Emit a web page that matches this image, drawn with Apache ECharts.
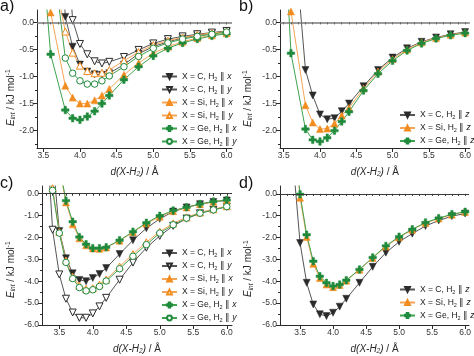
<!DOCTYPE html>
<html><head><meta charset="utf-8">
<script src="https://cdn.jsdelivr.net/npm/echarts@6/dist/echarts.min.js"></script>
<style>html,body{margin:0;padding:0;background:#fff}#c{width:474px;height:356px}</style>
</head><body><div id="c"></div>
<script>
// ---------- data ----------
const xA = [3.5,3.6,3.7,3.8,3.9,4.0,4.1,4.2,4.3,4.4,4.6,4.8,5.0,5.2,5.4,5.6,5.8,6.0];
const aCx  = [null,null,2.5,0.10,-0.45,-0.78,-0.91,-0.96,-0.97,-0.94,-0.78,-0.58,-0.45,-0.36,-0.29,-0.24,-0.20,-0.17];
const aCy  = [null,null,null,2.0,0.04,-0.40,-0.59,-0.72,-0.76,-0.73,-0.64,-0.51,-0.39,-0.31,-0.26,-0.22,-0.19,-0.16];
const aSix = [2.0,0.18,null,-1.17,-1.39,-1.50,-1.50,-1.44,-1.35,-1.23,-0.97,-0.75,-0.57,-0.45,-0.36,-0.29,-0.24,-0.20];
const aSiy = [null,null,0.5,-0.17,-0.56,-0.80,-0.90,-0.94,-0.93,-0.88,-0.71,-0.55,-0.42,-0.34,-0.28,-0.23,-0.20,-0.17];
const aGex = [1.05,-0.59,null,-1.62,-1.77,-1.80,-1.74,-1.64,-1.50,-1.35,-1.06,-0.82,-0.62,-0.48,-0.38,-0.31,-0.25,-0.21];
const aGey = [null,null,0.45,-0.66,-0.94,-1.08,-1.14,-1.14,-1.08,-0.99,-0.82,-0.63,-0.48,-0.38,-0.31,-0.26,-0.22,-0.18];

const xB = [3.5,3.6,3.8,3.9,4.0,4.1,4.2,4.3,4.4,4.6,4.8,5.0,5.2,5.4,5.6,5.8,6.0];
const bCz  = [null,2.3,-0.88,-1.35,-1.70,-1.79,-1.77,-1.64,-1.50,-1.18,-0.88,-0.65,-0.48,-0.36,-0.28,-0.22,-0.18];
const bSiz = [3.0,0.20,-1.53,-1.85,-1.97,-1.96,-1.87,-1.72,-1.58,-1.22,-0.91,-0.68,-0.50,-0.37,-0.29,-0.23,-0.19];
const bGez = [2.0,-0.57,-1.97,-2.17,-2.20,-2.13,-2.00,-1.83,-1.65,-1.26,-0.95,-0.71,-0.52,-0.39,-0.30,-0.24,-0.20];

const xC = [3.3,3.4,3.5,3.6,3.7,3.8,3.9,4.0,4.1,4.2,4.4,4.6,4.8,5.0,5.2,5.4,5.6,5.8,6.0];
const cCx  = [null,1.7,-1.71,-2.95,-3.64,-3.94,-4.00,-3.85,-3.67,-3.40,-2.76,-2.13,-1.58,-1.15,-0.82,-0.63,-0.48,-0.38,-0.31];
const cCy  = [3.3,-1.65,-3.69,-4.80,-5.43,-5.67,-5.67,-5.47,-5.15,-4.76,-3.93,-3.15,-2.47,-1.93,-1.47,-1.14,-0.90,-0.74,-0.60];
const cSix = [null,null,1.2,-0.40,-1.40,-2.04,-2.36,-2.50,-2.52,-2.46,-2.15,-1.76,-1.36,-1.05,-0.80,-0.63,-0.48,-0.37,-0.30];
const cSiy = [4.0,0.25,-1.75,-3.05,-3.80,-4.20,-4.35,-4.32,-4.15,-3.92,-3.33,-2.76,-2.22,-1.73,-1.36,-1.08,-0.86,-0.71,-0.57];
const cGex = [null,null,1.3,-0.32,-1.28,-1.98,-2.31,-2.49,-2.49,-2.45,-2.13,-1.74,-1.33,-1.01,-0.77,-0.62,-0.47,-0.36,-0.29];
const cGey = [4.0,0.15,-1.80,-3.14,-3.88,-4.29,-4.44,-4.39,-4.24,-3.99,-3.43,-2.86,-2.33,-1.80,-1.42,-1.12,-0.89,-0.74,-0.59];

const xD = [3.4,3.5,3.6,3.7,3.8,3.9,4.0,4.1,4.2,4.4,4.6,4.8,5.0,5.2,5.4,5.6,5.8,6.0];
const dCz  = [1.3,-2.25,-4.07,-5.06,-5.51,-5.59,-5.44,-5.16,-4.80,-4.07,-3.34,-2.69,-2.19,-1.82,-1.47,-1.22,-1.02,-0.90];
const dSiz = [3.0,-0.18,-1.97,-3.20,-3.85,-4.15,-4.27,-4.17,-3.97,-3.47,-2.93,-2.41,-1.99,-1.64,-1.33,-1.13,-0.95,-0.83];
const dGez = [3.0,-0.02,-1.87,-3.08,-3.77,-4.07,-4.22,-4.15,-3.95,-3.46,-2.91,-2.38,-1.96,-1.62,-1.31,-1.11,-0.93,-0.82];

// tick labels
const xTicks = [3.5,4.0,4.5,5.0,5.5,6.0];
const yTicksAB = [0.0,-0.5,-1.0,-1.5,-2.0];
const yTicksCD = [0.0,-1.0,-2.0,-3.0,-4.0,-5.0,-6.0];

// ---------- styling ----------
const fam = 'Liberation Sans, Arial, sans-serif';
const ink = '#2a2a2a';
const COL = {C:'#2b2b2b', Si:'#f28c1e', Ge:'#1f8a3c'};
const LINE = {C:'#555555', Si:'#f6a556', Ge:'#3fa24f'};
const plus = 'path://M3.4,0 L6.6,0 L6.6,3.4 L10,3.4 L10,6.6 L6.6,6.6 L6.6,10 L3.4,10 L3.4,6.6 L0,6.6 L0,3.4 L3.4,3.4 Z';
const SYM = {
  C:  {symbol:'triangle', rot:180, size:7},
  Si: {symbol:'triangle', rot:0, size:7},
  Ge: {symbol:plus, rot:0, size:7.5},
  Geo:{symbol:'circle', rot:0, size:6.5}
};

const grids = [
  {left:37, top:10, width:195, height:138},
  {left:280, top:10, width:191, height:138},
  {left:42, top:186, width:190, height:140},
  {left:280, top:186, width:191, height:140}
];
const xRange = [[3.414,6.074],[3.449,6.065],[3.242,6.078],[3.196,6.06]];
const yRange = [[-2.32,0.227],[-2.32,0.227],[-6.0,0.35],[-6.0,0.36]];

function minorList(lo, hi, step){ const r=[]; for(let v=Math.ceil(lo/step-1e-9); v*step<=hi+1e-9; v++) r.push(+(v*step).toFixed(3)); return r; }

const richName = {
  n:{fontSize:10, fontFamily:fam, fill:ink, color:ink, lineHeight:12},
  i:{fontSize:10, fontFamily:fam, fill:ink, color:ink, fontStyle:'italic', lineHeight:12},
  s:{fontSize:6.5, fontFamily:fam, fill:ink, color:ink, fontStyle:'italic', verticalAlign:'bottom'},
  sup:{fontSize:6.5, fontFamily:fam, fill:ink, color:ink, verticalAlign:'top'}
};
const xName = '{i|d(X-H}{s|2}{i|)}{n| / Å}';
const yName = '{i|E}{s|int}{n| / kJ mol}{sup|-1}';
const yNamePos = [[11,126],[248,127],[11,298],[248.5,297]];

const xAxes = [], yAxes = [];
for (let g=0; g<4; g++){
  xAxes.push({
    gridIndex:g, type:'value', min:xRange[g][0], max:xRange[g][1],
    axisLine:{show:true, onZero:false, lineStyle:{color:ink, width:1}},
    axisTick:{show:true, length:4, customValues:xTicks, lineStyle:{color:ink, width:1}},
    axisLabel:{customValues:xTicks, formatter:v=>v.toFixed(1), fontSize:8.5, fontFamily:fam, color:'#333', margin:3},
    splitLine:{show:false},
    name:xName, nameLocation:'middle', nameGap:18,
    nameTextStyle:{rich:richName}
  });
  const yt = g<2 ? yTicksAB : yTicksCD;
  yAxes.push({
    gridIndex:g, type:'value', min:yRange[g][0], max:yRange[g][1],
    axisLine:{show:true, onZero:false, lineStyle:{color:ink, width:1}},
    axisTick:{show:true, length:4, customValues:yt, lineStyle:{color:ink, width:1}},
    axisLabel:{customValues:yt, formatter:v=>v.toFixed(1), fontSize:8.5, fontFamily:fam, color:'#333', margin:3},
    splitLine:{show:false}
  });
}
for (let g=0; g<4; g++){
  xAxes.push({
    gridIndex:g, type:'value', position:'bottom', min:xRange[g][0], max:xRange[g][1],
    axisLine:{show:false}, axisLabel:{show:false}, splitLine:{show:false},
    axisTick:{show:true, length:2, customValues:minorList(xRange[g][0], xRange[g][1], 0.1), lineStyle:{color:ink, width:1}}
  });
  const st = g<2 ? 0.25 : 0.5;
  yAxes.push({
    gridIndex:g, type:'value', position:'left', min:yRange[g][0], max:yRange[g][1],
    axisLine:{show:false}, axisLabel:{show:false}, splitLine:{show:false},
    axisTick:{show:true, length:2, customValues:minorList(yRange[g][0], yRange[g][1], st), lineStyle:{color:ink, width:1}}
  });
}

function ser(id, g, xs, ys, el, filled, zeroLine){
  const sk = (el==='Ge' && !filled) ? 'Geo' : el;
  const s = {
    name:id, type:'line', xAxisIndex:g, yAxisIndex:g,
    data: xs.map((x,i)=>[x, ys[i]]).filter(d=>d[1]!==null),
    symbol:SYM[sk].symbol, symbolRotate:SYM[sk].rot, symbolSize:SYM[sk].size,
    showAllSymbol:true, clip:true, connectNulls:true,
    lineStyle:{color:LINE[el], width:1},
    itemStyle: filled ? {color:COL[el], borderColor:COL[el], borderWidth:0.5}
                      : {color:'#ffffff', borderColor:COL[el], borderWidth:1},
    emphasis:{disabled:true}
  };
  if (zeroLine) s.markLine = {silent:true, symbol:'none', label:{show:false},
      lineStyle:{color: g<2 ? '#7a7a7a' : '#3a3a3a', width: g<2 ? 1.6 : 1.2, type:'solid'},
      data:[{yAxis:0}]};
  return s;
}

const series = [
  ser('a|C|x',0,xA,aCx,'C',true,true),
  ser('a|C|y',0,xA,aCy,'C',false),
  ser('a|Si|x',0,xA,aSix,'Si',true),
  ser('a|Si|y',0,xA,aSiy,'Si',false),
  ser('a|Ge|x',0,xA,aGex,'Ge',true),
  ser('a|Ge|y',0,xA,aGey,'Ge',false),
  ser('b|C|z',1,xB,bCz,'C',true,true),
  ser('b|Si|z',1,xB,bSiz,'Si',true),
  ser('b|Ge|z',1,xB,bGez,'Ge',true),
  ser('c|C|x',2,xC,cCx,'C',true,true),
  ser('c|C|y',2,xC,cCy,'C',false),
  ser('c|Si|x',2,xC,cSix,'Si',true),
  ser('c|Si|y',2,xC,cSiy,'Si',false),
  ser('c|Ge|x',2,xC,cGex,'Ge',true),
  ser('c|Ge|y',2,xC,cGey,'Ge',false),
  ser('d|C|z',3,xD,dCz,'C',true,true),
  ser('d|Si|z',3,xD,dSiz,'Si',true),
  ser('d|Ge|z',3,xD,dGez,'Ge',true)
];

const legRich = {
  n:{fontSize:8.5, fontFamily:fam, color:'#1a1a1a', lineHeight:11},
  s:{fontSize:5.5, fontFamily:fam, color:'#1a1a1a', verticalAlign:'bottom'},
  i:{fontSize:8.5, fontFamily:fam, color:'#1a1a1a', fontStyle:'italic', lineHeight:11}
};
function leg(names, left, top){
  return {data:names, orient:'vertical', left, top, padding:0, itemGap:3,
    itemWidth:15, itemHeight:6, selectedMode:false,
    formatter: nm => { const p = nm.split('|'); return '{n|X = '+p[1]+', H}{s|2}{n| ∥ }{i|'+p[2]+'}'; },
    textStyle:{rich:legRich}};
}
const legends = [
  leg(series.slice(0,6).map(s=>s.name), 161, 72),
  leg(series.slice(6,9).map(s=>s.name), 399, 110.5),
  leg(series.slice(9,15).map(s=>s.name), 161, 248.5),
  leg(series.slice(15,18).map(s=>s.name), 399, 285)
];

const letters = [['a)',0,-1],['b)',239,-1],['c)',0,176],['d)',239,176]];
const titles = letters.map(t=>({text:t[0], left:t[1], top:t[2], padding:0,
  textStyle:{fontSize:16, fontWeight:'normal', fontFamily:fam, color:'#111'}}));

const graphics = yNamePos.map(p=>({type:'text', x:p[0], y:p[1], rotation:Math.PI/2, silent:true,
  style:{text:yName, rich:richName, align:'left', verticalAlign:'middle', fill:ink, fontFamily:fam, fontSize:10}}));

const chart = echarts.init(document.getElementById('c'), null, {renderer:'canvas'});
chart.setOption({
  animation:false, backgroundColor:'#ffffff',
  title:titles, grid:grids, xAxis:xAxes, yAxis:yAxes, legend:legends, series,
  graphic:graphics
});
</script></body></html>
